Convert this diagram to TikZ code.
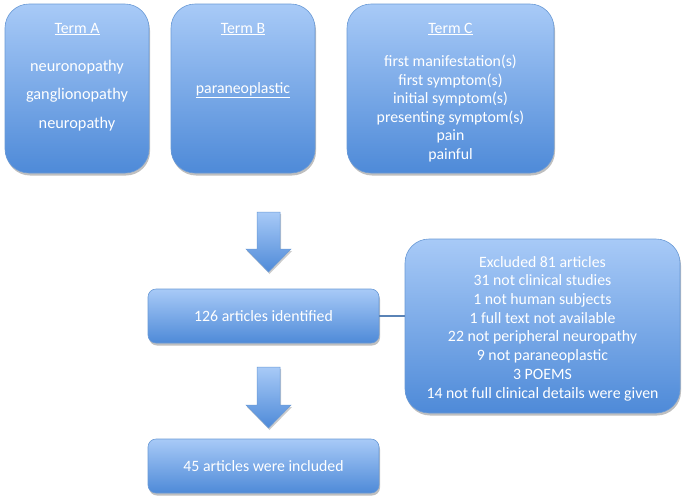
\documentclass[tikz,border=0pt]{standalone}
\usepackage{fontspec}
\setmainfont{Carlito}
\usetikzlibrary{shadows,calc}
\definecolor{topc}{HTML}{A8CAF7}
\definecolor{botc}{HTML}{4E8AD8}
\definecolor{edgec}{HTML}{6A9AD6}
\begin{document}
\begin{tikzpicture}[x=1pt,y=-1pt,
  box/.style={draw=edgec,line width=0.6pt,top color=topc,bottom color=botc,
    drop shadow={shadow xshift=1pt,shadow yshift=-2.5pt,fill=black,opacity=0.25},
    inner sep=0pt,outer sep=0pt},
  bigbox/.style={box,rounded corners=24pt},
  smallbox/.style={box,rounded corners=8pt},
  txt/.style={text=white,font=\fontsize{15.8}{18}\selectfont,inner sep=0pt,align=center},
  arrowfill/.style={draw=edgec,line width=0.5pt,top color=topc,bottom color=botc,
    drop shadow={shadow xshift=1pt,shadow yshift=-2pt,fill=black,opacity=0.2}},
  link/.style={draw=edgec!85!black,line width=1.4pt}]
\path[fill=white,use as bounding box] (0,0) rectangle (685,501);

% term boxes
\node[bigbox,minimum width=144pt,minimum height=169pt] (A) at (77,88.5) {};
\node[bigbox,minimum width=144pt,minimum height=169pt] (B) at (243,88.5) {};
\node[bigbox,minimum width=207pt,minimum height=169pt] (C) at (450.5,88.5) {};

\node[txt] (Ah) at ($(A.north)+(0,25)$) {\underline{Term A}};
\node[txt,font=\fontsize{16.3}{18}\selectfont] (A1) at ($(A.north)+(0,63.5)$) {neuronopathy};
\node[txt,font=\fontsize{16.3}{18}\selectfont] (A2) at ($(A.north)+(0,91.5)$) {ganglionopathy};
\node[txt,font=\fontsize{16.3}{18}\selectfont] (A3) at ($(A.north)+(0,120)$) {neuropathy};

\node[txt] (Bh) at ($(B.north)+(0,25)$) {\underline{Term B}};
\node[txt] (B1) at ($(B.north)+(0,86)$) {\underline{paraneoplastic}};

\node[txt] (Ch) at ($(C.north)+(0,25)$) {\underline{Term C}};
\node[txt,font=\fontsize{15.8}{18.6}\selectfont] (C1) at ($(C.north)+(0,104.5)$)
  {first manifestation(s)\\first symptom(s)\\initial symptom(s)\\presenting symptom(s)\\pain\\painful};

% flow boxes
\node[smallbox,minimum width=231pt,minimum height=54pt] (n126) at (263.5,316) {};
\node[txt] (t126) at (n126.center) {126 articles identified};

\node[bigbox,minimum width=275pt,minimum height=174pt] (ex) at (542.5,326) {};
\node[txt,font=\fontsize{15.8}{18.7}\selectfont] (tex) at ($(ex.center)+(0,2.5)$)
  {Excluded 81 articles\\31 not clinical studies\\1 not human subjects\\1 full text not available\\22 not peripheral neuropathy\\9 not paraneoplastic\\3 POEMS\\14 not full clinical details were given};

\node[smallbox,minimum width=231pt,minimum height=54pt] (n45) at (263.5,466) {};
\node[txt] (t45) at (n45.center) {45 articles were included};

% connector
\draw[link] (n126.east) -- (n126.east -| ex.west);

% block arrows
\coordinate (tip1) at ($(n126.north)+(5,-17)$);
\coordinate (tip2) at ($(n45.north)+(5,-11)$);
\path[arrowfill] (tip1) -- ++(-22.5,-23) -- ++(11,0) -- ++(0,-37) -- ++(23,0)
  -- ++(0,37) -- ++(11,0) -- cycle;
\path[arrowfill] (tip2) -- ++(-22.5,-23) -- ++(11,0) -- ++(0,-38) -- ++(23,0)
  -- ++(0,38) -- ++(11,0) -- cycle;
\end{tikzpicture}
\end{document}
